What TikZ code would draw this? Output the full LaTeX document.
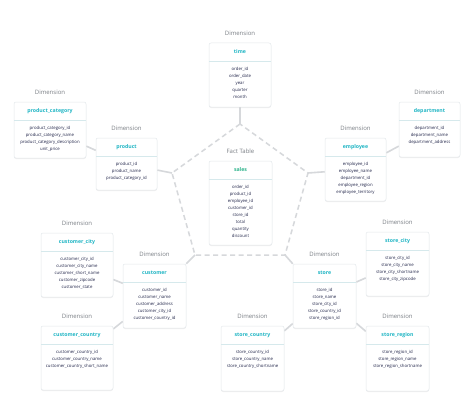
\documentclass[tikz,border=0pt]{standalone}
\usepackage{fontspec}
\setmainfont{Open Sans}
\usetikzlibrary{shadows,fit,backgrounds}
\definecolor{tealA}{HTML}{1FB5C4}
\definecolor{greenA}{HTML}{2FB48C}
\definecolor{ink}{HTML}{22264A}
\definecolor{capgray}{HTML}{7A7F85}
\definecolor{edgegray}{HTML}{E3E8EB}
\definecolor{sepcol}{HTML}{D6E9EC}
\definecolor{dashgray}{HTML}{D6D8DB}
\tikzset{
 tbl/.style={draw=edgegray, fill=white, rounded corners=2pt, line width=0.5pt, inner sep=0pt,
   drop shadow={opacity=0.12, shadow xshift=0pt, shadow yshift=-1pt}},
 captxt/.style={text=capgray, font=\fontsize{6}{7}\selectfont, inner sep=0pt},
 ttltxt/.style={font=\fontsize{5.2}{7}\selectfont\bfseries, inner sep=0pt},
 itmtxt/.style={text=ink, font=\fontsize{4.3}{7}\selectfont, align=center, inner sep=0pt, anchor=north},
 sepline/.style={draw=sepcol, line width=0.5pt},
 dashedge/.style={draw=dashgray, line width=1.5pt, dash pattern=on 5pt off 3.5pt},
 linkline/.style={draw=dashgray, line width=1.6pt},
}
% #1 name #2 x1 #3 y1 #4 x2 #5 y2 #6 caption #7 title #8 colour #9 items
\newcommand\dimtable[9]{%
 \node[tbl, fit={(#2,#3) (#4,#5)}] (#1) {};
 \node[captxt] (#1-cap) at ({(#2+#4)/2}, #3-10) {#6};
 \node[ttltxt, text=#8] (#1-ttl) at ({(#2+#4)/2}, #3+9) {#7};
 \draw[sepline] (#2,#3+18) -- (#4,#3+18);
 \node[itmtxt] (#1-items) at ({(#2+#4)/2}, #3+24) {#9};
}
\begin{document}
\begin{tikzpicture}[x=1pt,y=-1pt]
\useasboundingbox (0,0) rectangle (474,420);
\begin{pgfonlayer}{background}
\fill[white] (0,0) rectangle (474,420);
\end{pgfonlayer}
\dimtable{time}{209}{43}{271}{107}{Dimension}{time}{tealA}{order\_id\\order\_date\\year\\quarter\\month}
\dimtable{pcat}{14}{102}{86}{158}{Dimension}{product\_category}{tealA}{product\_category\_id\\product\_category\_name\\product\_category\_description\\unit\_price}
\dimtable{product}{96}{138}{157}{190}{Dimension}{product}{tealA}{product\_id\\product\_name\\product\_category\_id}
\dimtable{sales}{209}{161}{272}{245}{Fact Table}{sales}{greenA}{order\_id\\product\_id\\employee\_id\\customer\_id\\store\_id\\total\\quantity\\discount}
\dimtable{employee}{325}{138}{386}{201}{Dimension}{employee}{tealA}{employee\_id\\employee\_name\\department\_id\\employee\_region\\employee\_territory}
\dimtable{dept}{399}{102}{460}{157}{Dimension}{department}{tealA}{department\_id\\department\_name\\department\_address}
\dimtable{ccity}{41}{233}{113}{297}{Dimension}{customer\_city}{tealA}{customer\_city\_id\\customer\_city\_name\\customer\_short\_name\\customer\_zipcode\\customer\_state}
\dimtable{customer}{123}{264}{186}{328}{Dimension}{customer}{tealA}{customer\_id\\customer\_name\\customer\_address\\customer\_city\_id\\customer\_country\_id}
\dimtable{store}{293}{264}{356}{328}{Dimension}{store}{tealA}{store\_id\\store\_name\\store\_city\_id\\store\_country\_id\\store\_region\_id}
\dimtable{scity}{366}{232}{429}{296}{Dimension}{store\_city}{tealA}{store\_city\_id\\store\_city\_name\\store\_city\_shortname\\store\_city\_zipcode}
\dimtable{ccountry}{41}{326}{113}{390}{Dimension}{customer\_country}{tealA}{customer\_country\_id\\customer\_country\_name\\customer\_country\_short\_name}
\dimtable{scountry}{221}{326}{284}{391}{Dimension}{store\_country}{tealA}{store\_country\_id\\store\_country\_name\\store\_country\_shortname}
\dimtable{sregion}{366}{326}{429}{391}{Dimension}{store\_region}{tealA}{store\_region\_id\\store\_region\_name\\store\_region\_shortname}
\coordinate (pT) at (240,124);
\coordinate (pL) at (172,173);
\coordinate (pR) at (308,173);
\coordinate (pBL) at (195,255);
\coordinate (pBR) at (285,255);
\begin{pgfonlayer}{background}
\draw[dashedge] (pT) -- (pL) -- (pBL) -- (pBR) -- (pR) -- cycle;
\draw[linkline] (pT) -- (time);
\draw[linkline] (pL) -- (product);
\draw[linkline] (pR) -- (employee);
\draw[linkline] (pBL) -- (customer.north east);
\draw[linkline] (pBR) -- (store.north west);
\draw[linkline] (pcat) -- (product);
\draw[linkline] (dept) -- (employee);
\draw[linkline] (ccity) -- (customer);
\draw[linkline] (ccountry) -- (customer);
\draw[linkline] (store) -- (scity);
\draw[linkline] (store) -- (scountry);
\draw[linkline] (store) -- (sregion);
\end{pgfonlayer}
\end{tikzpicture}
\end{document}
